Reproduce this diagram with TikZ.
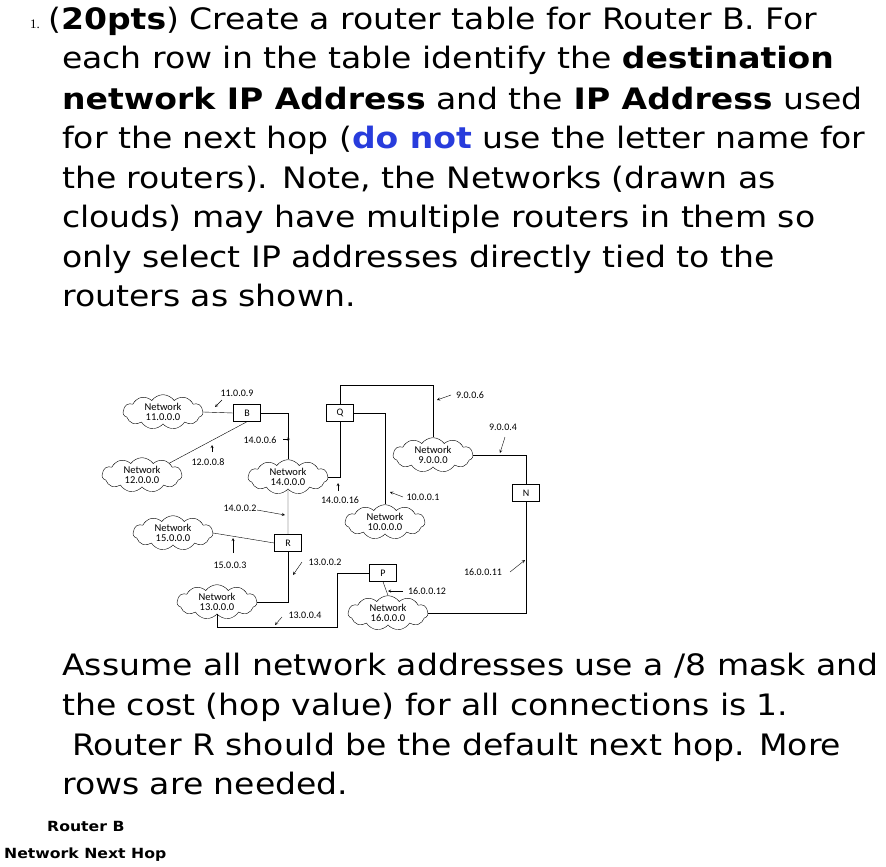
\documentclass[tikz,border=0pt]{standalone}
\usepackage{fontspec}
\setmainfont{DejaVu Sans}[FakeStretch=1.12]
\newfontfamily\diafont{Carlito}
\newfontfamily\numfont{Liberation Serif}
\usetikzlibrary{shapes.symbols}
\tikzset{
  net/.style={cloud, cloud puffs=11, cloud puff arc=110, aspect=2.8, draw, inner sep=0pt,
    minimum width=80pt, minimum height=30pt, font=\diafont\fontsize{10.5}{10.5}\selectfont, align=center},
  router/.style={draw, minimum width=27pt, minimum height=17pt, inner sep=0pt, font=\diafont\fontsize{10}{10}\selectfont},
  ip/.style={font=\diafont\fontsize{10}{10}\selectfont, inner sep=1pt},
  line/.style={anchor=base west, inner sep=0pt, font=\fontsize{29.5}{29.5}\selectfont},
  tail/.style={anchor=base west, inner sep=0pt, font=\bfseries\fontsize{14}{14}\selectfont},
  tip/.style={->, >=stealth, thin}
}
\definecolor{donot}{RGB}{40,60,220}
\begin{document}
\begin{tikzpicture}[x=1pt,y=-1pt]
\useasboundingbox (0,0) rectangle (886,867);
% question text
\node[anchor=base west, inner sep=0pt, font=\numfont\fontsize{13}{13}\selectfont] (num) at (30,29) {1.};
\node[line] (l1) at (48,30) {(\textbf{20pts}) Create a router table for Router B. For};
\node[line] (l2) at (62,69) {each row in the table identify the \textbf{destination}};
\node[line] (l3) at (62,109) {\textbf{network IP Address} and the \textbf{IP Address} used};
\node[line] (l4) at (62,148) {for the next hop (\textcolor{donot}{\textbf{do not}} use the letter name for};
\node[line] (l5) at (62,188) {the routers). Note, the Networks (drawn as};
\node[line] (l6) at (62,227) {clouds) may have multiple routers in them so};
\node[line] (l7) at (62,267) {only select IP addresses directly tied to the};
\node[line] (l8) at (62,306) {routers as shown.};
% networks
\node[net] (n11) at (163,412) {Network\\11.0.0.0};
\node[net] (n12) at (142,475) {Network\\12.0.0.0};
\node[net] (n14) at (288,477) {Network\\14.0.0.0};
\node[net] (n15) at (173,533) {Network\\15.0.0.0};
\node[net] (n13) at (217,602) {Network\\13.0.0.0};
\node[net] (n9) at (433,455) {Network\\9.0.0.0};
\node[net] (n10) at (385,522) {Network\\10.0.0.0};
\node[net] (n16) at (388,613) {Network\\16.0.0.0};
% routers
\node[router] (B) at (247,413) {B};
\node[router] (Q) at (340,413) {Q};
\node[router] (R) at (288,543) {R};
\node[router] (P) at (383,573) {P};
\node[router] (N) at (526,493) {N};
% links
\draw (n11.east) -- (B.west);
\draw (B.south) -- (n12.north east);
\draw (B.east) -| (n14.north);
\draw (n14.east) -| (Q.south);
\draw (Q.north) -- ++(0,-19) -| (n9.north);
\draw (Q.east) -| (n10.north);
\draw (n9.east) -| (N.north);
\draw (N.south) |- (n16.east);
\draw (P.south) -- (n16.north);
\draw (n14.south) -- (R.north);
\draw (R.west) -- (n15.east);
\draw (R.south) |- (n13.east);
\draw (n13.south) -- ++(0,13) -| (337,573) -- (P.west);
% addresses
\node[ip] (a1) at (237,393) {11.0.0.9};
\draw[tip] (222,400) -- (215,407);
\node[ip] (a2) at (260,440) {14.0.0.6};
\draw[tip] (283,439) -- (290,439);
\node[ip] (a3) at (208,462) {12.0.0.8};
\draw[tip] (212,452) -- (212,445);
\node[ip] (a4) at (340,500) {14.0.0.16};
\draw[tip] (338,491) -- (338,483);
\node[ip] (a5) at (423,497) {10.0.0.1};
\draw[tip] (403,497) -- (390,492);
\node[ip] (a6) at (240,508) {14.0.0.2};
\draw[tip] (257,510) -- (285,515);
\node[ip] (a7) at (230,565) {15.0.0.3};
\draw[tip] (233,553) -- (233,538);
\node[ip] (a8) at (325,562) {13.0.0.2};
\draw[tip] (302,562) -- (293,575);
\node[ip] (a9) at (427,591) {16.0.0.12};
\draw[tip] (403,591) -- (388,591);
\node[ip] (a10) at (483,572) {16.0.0.11};
\draw[tip] (510,572) -- (525,560);
\node[ip] (a11) at (305,615) {13.0.0.4};
\draw[tip] (282,617) -- (275,625);
\node[ip] (a12) at (470,395) {9.0.0.6};
\draw[tip] (451,395) -- (437,400);
\node[ip] (a13) at (503,427) {9.0.0.4};
\draw[tip] (505,437) -- (500,453);
% closing text
\node[line] (m1) at (62,675) {Assume all network addresses use a /8 mask and};
\node[line] (m2) at (62,715) {the cost (hop value) for all connections is 1.};
\node[line] (m3) at (72,755) {Router R should be the default next hop. More};
\node[line] (m4) at (62,794) {rows are needed.};
\node[tail] (rb) at (47,831) {Router B};
\node[tail] (hd) at (4,858) {Network Next Hop};
\end{tikzpicture}
\end{document}
